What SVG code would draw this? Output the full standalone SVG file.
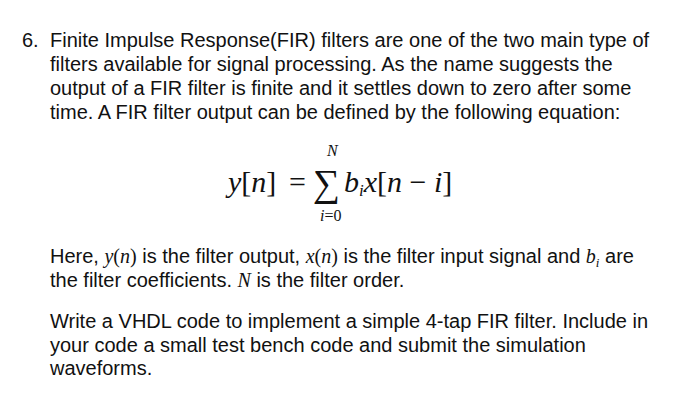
<svg xmlns="http://www.w3.org/2000/svg" width="700" height="403" viewBox="0 0 700 403">
<style>
.t{font-family:"Liberation Sans",Arial,sans-serif;font-size:20px;fill:#111}
.m{font-family:"Liberation Serif","DejaVu Serif",serif;fill:#111}
.i{font-style:italic}
</style>
<rect width="700" height="403" fill="#fff"/>
<text class="t" x="22" y="47">6.</text>
<text class="t" x="50" y="47">Finite Impulse Response(FIR) filters are one of the two main type of</text>
<text class="t" x="50" y="71">filters available for signal processing. As the name suggests the</text>
<text class="t" x="50" y="95">output of a FIR filter is finite and it settles down to zero after some</text>
<text class="t" x="50" y="119">time. A FIR filter output can be defined by the following equation:</text>
<g class="m">
<text x="228" y="192" font-size="30"><tspan class="i">y</tspan>[<tspan class="i">n</tspan>]</text>
<text x="289" y="192" font-size="30">=</text>
<text x="313" y="196" font-size="38">∑</text>
<text x="327" y="156" font-size="16" class="i">N</text>
<text x="320" y="221" font-size="16"><tspan class="i">i</tspan>=0</text>
<text x="344" y="192" font-size="30"><tspan class="i">b</tspan><tspan class="i" font-size="17" dy="4">i</tspan><tspan class="i" dy="-4">x</tspan>[<tspan class="i">n</tspan> − <tspan class="i">i</tspan>]</text>
</g>
<text class="t" x="50" y="263">Here, <tspan class="m i">y</tspan><tspan class="m">(</tspan><tspan class="m i">n</tspan><tspan class="m">)</tspan> is the filter output, <tspan class="m i">x</tspan><tspan class="m">(</tspan><tspan class="m i">n</tspan><tspan class="m">)</tspan> is the filter input signal and <tspan class="m i">b</tspan><tspan class="m i" font-size="13" dy="4">i</tspan><tspan dy="-4"> are</tspan></text>
<text class="t" x="50" y="287">the filter coefficients. <tspan class="m i">N</tspan> is the filter order.</text>
<text class="t" x="50" y="328">Write a VHDL code to implement a simple 4-tap FIR filter.  Include in</text>
<text class="t" x="50" y="352">your code a small test bench code and submit the simulation</text>
<text class="t" x="50" y="375">waveforms.</text>
</svg>
